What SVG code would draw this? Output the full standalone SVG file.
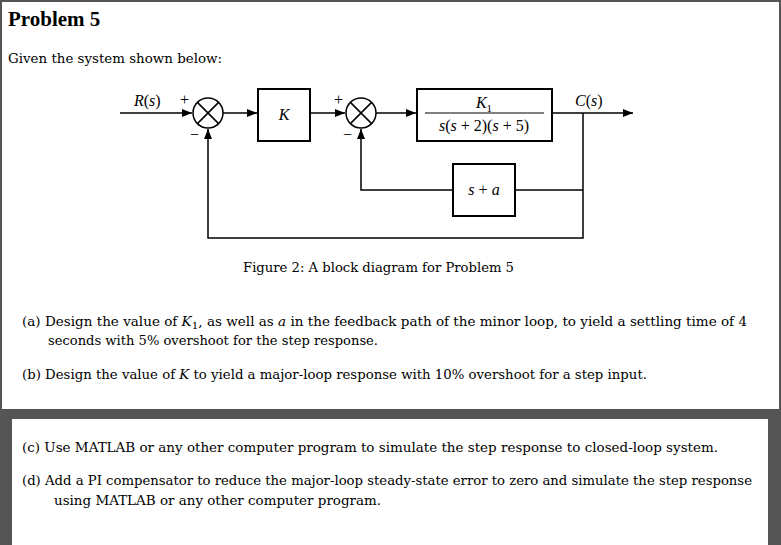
<svg xmlns="http://www.w3.org/2000/svg" width="781" height="545" viewBox="0 0 781 545">
<style>
.t{font-family:"DejaVu Serif",serif;font-size:13px;fill:#000}
.m{font-family:"Liberation Serif",serif;font-size:16px;font-style:italic;fill:#000}
.n{font-family:"Liberation Serif",serif;font-size:16px;fill:#000}
.b{fill:#fff;stroke:#000;stroke-width:2}
.w{fill:none;stroke:#000;stroke-width:1.5}
</style>
<defs><marker id="a" markerWidth="10" markerHeight="8" refX="10" refY="4" orient="auto" markerUnits="userSpaceOnUse"><path d="M0,0L10,4L0,8z" fill="#000"/></marker></defs>
<rect width="781" height="545" fill="#555"/>
<rect x="2" y="2" width="777" height="407" fill="#fff"/>
<rect x="12" y="419" width="756" height="126" fill="#fff"/>
<text x="8" y="26" font-family="Liberation Serif,serif" font-size="21" font-weight="bold">Problem 5</text>
<text class="t" x="8" y="63" textLength="214" lengthAdjust="spacingAndGlyphs">Given the system shown below:</text>
<g id="connectors">
<path class="w" d="M120,113H192" marker-end="url(#a)"/>
<path class="w" d="M223,113H257" marker-end="url(#a)"/>
<path class="w" d="M311,113H345" marker-end="url(#a)"/>
<path class="w" d="M376,113H416" marker-end="url(#a)"/>
<path class="w" d="M553,113H633" marker-end="url(#a)"/>
<path class="w" d="M583,113V238H208V129" marker-end="url(#a)"/>
<path class="w" d="M583,190H516"/>
<path class="w" d="M453,190H361V129" marker-end="url(#a)"/>
</g>
<g id="sum1"><circle class="w" cx="208" cy="113" r="15"/><path class="w" d="M197.4,102.4L218.6,123.6M218.6,102.4L197.4,123.6"/><text class="n" x="180" y="105">+</text><text class="n" x="190" y="140">−</text></g>
<g id="sum2"><circle class="w" cx="361" cy="113" r="15"/><path class="w" d="M350.4,102.4L371.6,123.6M371.6,102.4L350.4,123.6"/><text class="n" x="334" y="105">+</text><text class="n" x="343" y="140">−</text></g>
<g id="K"><rect class="b" x="258" y="89" width="52" height="52"/><text class="m" x="284" y="120" text-anchor="middle">K</text></g>
<g id="G"><rect class="b" x="417" y="89" width="135" height="52"/><text class="m" x="484" y="108" text-anchor="middle">K<tspan font-size="11" font-style="normal" dy="4">1</tspan></text><line x1="425" y1="113" x2="544" y2="113" stroke="#000"/><text class="n" x="484" y="131" text-anchor="middle"><tspan font-style="italic">s</tspan>(<tspan font-style="italic">s</tspan> + 2)(<tspan font-style="italic">s</tspan> + 5)</text></g>
<g id="H"><rect class="b" x="453" y="164" width="62" height="52"/><text class="m" x="484" y="195" text-anchor="middle">s <tspan font-style="normal">+</tspan> a</text></g>
<text class="m" x="134" y="106">R<tspan font-style="normal">(</tspan>s<tspan font-style="normal">)</tspan></text>
<text class="m" x="575" y="106">C<tspan font-style="normal">(</tspan>s<tspan font-style="normal">)</tspan></text>
<text class="t" x="243" y="272" textLength="271" lengthAdjust="spacingAndGlyphs">Figure 2: A block diagram for Problem 5</text>
<text class="t" x="22" y="326" textLength="725" lengthAdjust="spacingAndGlyphs">(a)  Design the value of <tspan font-style="italic">K</tspan><tspan font-size="10" dy="3">1</tspan><tspan dy="-3">, as well as </tspan><tspan font-style="italic">a</tspan> in the feedback path of the minor loop, to yield a settling time of 4</text>
<text class="t" x="48" y="345" textLength="330" lengthAdjust="spacingAndGlyphs">seconds with 5% overshoot for the step response.</text>
<text class="t" x="22" y="379" textLength="625" lengthAdjust="spacingAndGlyphs">(b)  Design the value of <tspan font-style="italic">K</tspan> to yield a major-loop response with 10% overshoot for a step input.</text>
<text class="t" x="22" y="452" textLength="696" lengthAdjust="spacingAndGlyphs">(c)  Use MATLAB or any other computer program to simulate the step response to closed-loop system.</text>
<text class="t" x="22" y="485" textLength="730" lengthAdjust="spacingAndGlyphs">(d)  Add a PI compensator to reduce the major-loop steady-state error to zero and simulate the step response</text>
<text class="t" x="54" y="505" textLength="327" lengthAdjust="spacingAndGlyphs">using MATLAB or any other computer program.</text>
</svg>
